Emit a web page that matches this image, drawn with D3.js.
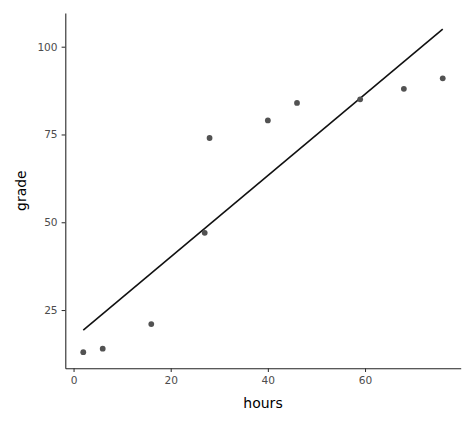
<!DOCTYPE html>
<html>
<head>
<meta charset="utf-8">
<script src="https://cdn.jsdelivr.net/npm/d3@7"></script>
<style>
  body { margin: 0; background: #fff; }
  svg { display: block; font-family: "DejaVu Sans", sans-serif; }
</style>
</head>
<body>
<svg width="474" height="423"></svg>
<script>
// data
const hours = [2, 6, 16, 27, 28, 40, 46, 59, 68, 76];
const grade = [13, 14, 21, 47, 74, 79, 84, 85, 88, 91];

// fitted line end points (as drawn)
const fitHours = [2, 76];
const fitGrade = [19.3, 105.0];

const xTicks = [0, 20, 40, 60];
const yTicks = [25, 50, 75, 100];

const svg = d3.select('svg');
const width = +svg.attr('width');
const height = +svg.attr('height');
const margin = { top: 13, right: 13.3, bottom: 54.7, left: 65.3 };

// ggplot-ish 5% expansion
const xExt = [2, 76];
const yExt = [13, 105];
const xPad = (xExt[1] - xExt[0]) * 0.05;
const yPad = (yExt[1] - yExt[0]) * 0.05;

const x = d3.scaleLinear()
  .domain([xExt[0] - xPad, xExt[1] + xPad])
  .range([margin.left, width - margin.right]);

const y = d3.scaleLinear()
  .domain([yExt[0] - yPad, yExt[1] + yPad])
  .range([height - margin.bottom, margin.top]);

// axes
const xAxis = svg.append('g')
  .attr('transform', `translate(0,${height - margin.bottom})`)
  .call(d3.axisBottom(x).tickValues(xTicks).tickSize(3.7).tickPadding(4).tickSizeOuter(0));

const yAxis = svg.append('g')
  .attr('transform', `translate(${margin.left},0)`)
  .call(d3.axisLeft(y).tickValues(yTicks).tickSize(3.7).tickPadding(4).tickSizeOuter(0));

[xAxis, yAxis].forEach((g) => {
  g.select('.domain').attr('stroke', '#222').attr('stroke-width', 1.07);
  g.selectAll('.tick line').attr('stroke', '#333').attr('stroke-width', 1.07);
  g.selectAll('.tick text')
    .attr('fill', '#4d4d4d')
    .style('font-size', '10.6px')
    .style('font-family', '"DejaVu Sans", sans-serif');
});

// axis titles
svg.append('text')
  .attr('x', (margin.left + width - margin.right) / 2)
  .attr('y', 408)
  .attr('text-anchor', 'middle')
  .attr('fill', '#000')
  .style('font-size', '14px')
  .text('hours');

svg.append('text')
  .attr('transform', `translate(26,${(margin.top + height - margin.bottom) / 2}) rotate(-90)`)
  .attr('text-anchor', 'middle')
  .attr('fill', '#000')
  .style('font-size', '14px')
  .text('grade');

// fitted line
const line = d3.line()
  .x((d) => x(d[0]))
  .y((d) => y(d[1]));

svg.append('path')
  .datum(d3.zip(fitHours, fitGrade))
  .attr('d', line)
  .attr('fill', 'none')
  .attr('stroke', '#111')
  .attr('stroke-width', 1.6);

// points
svg.append('g')
  .selectAll('circle')
  .data(d3.zip(hours, grade))
  .enter().append('circle')
    .attr('cx', (d) => x(d[0]))
    .attr('cy', (d) => y(d[1]))
    .attr('r', 2.9)
    .attr('fill', '#525252');
</script>
</body>
</html>
